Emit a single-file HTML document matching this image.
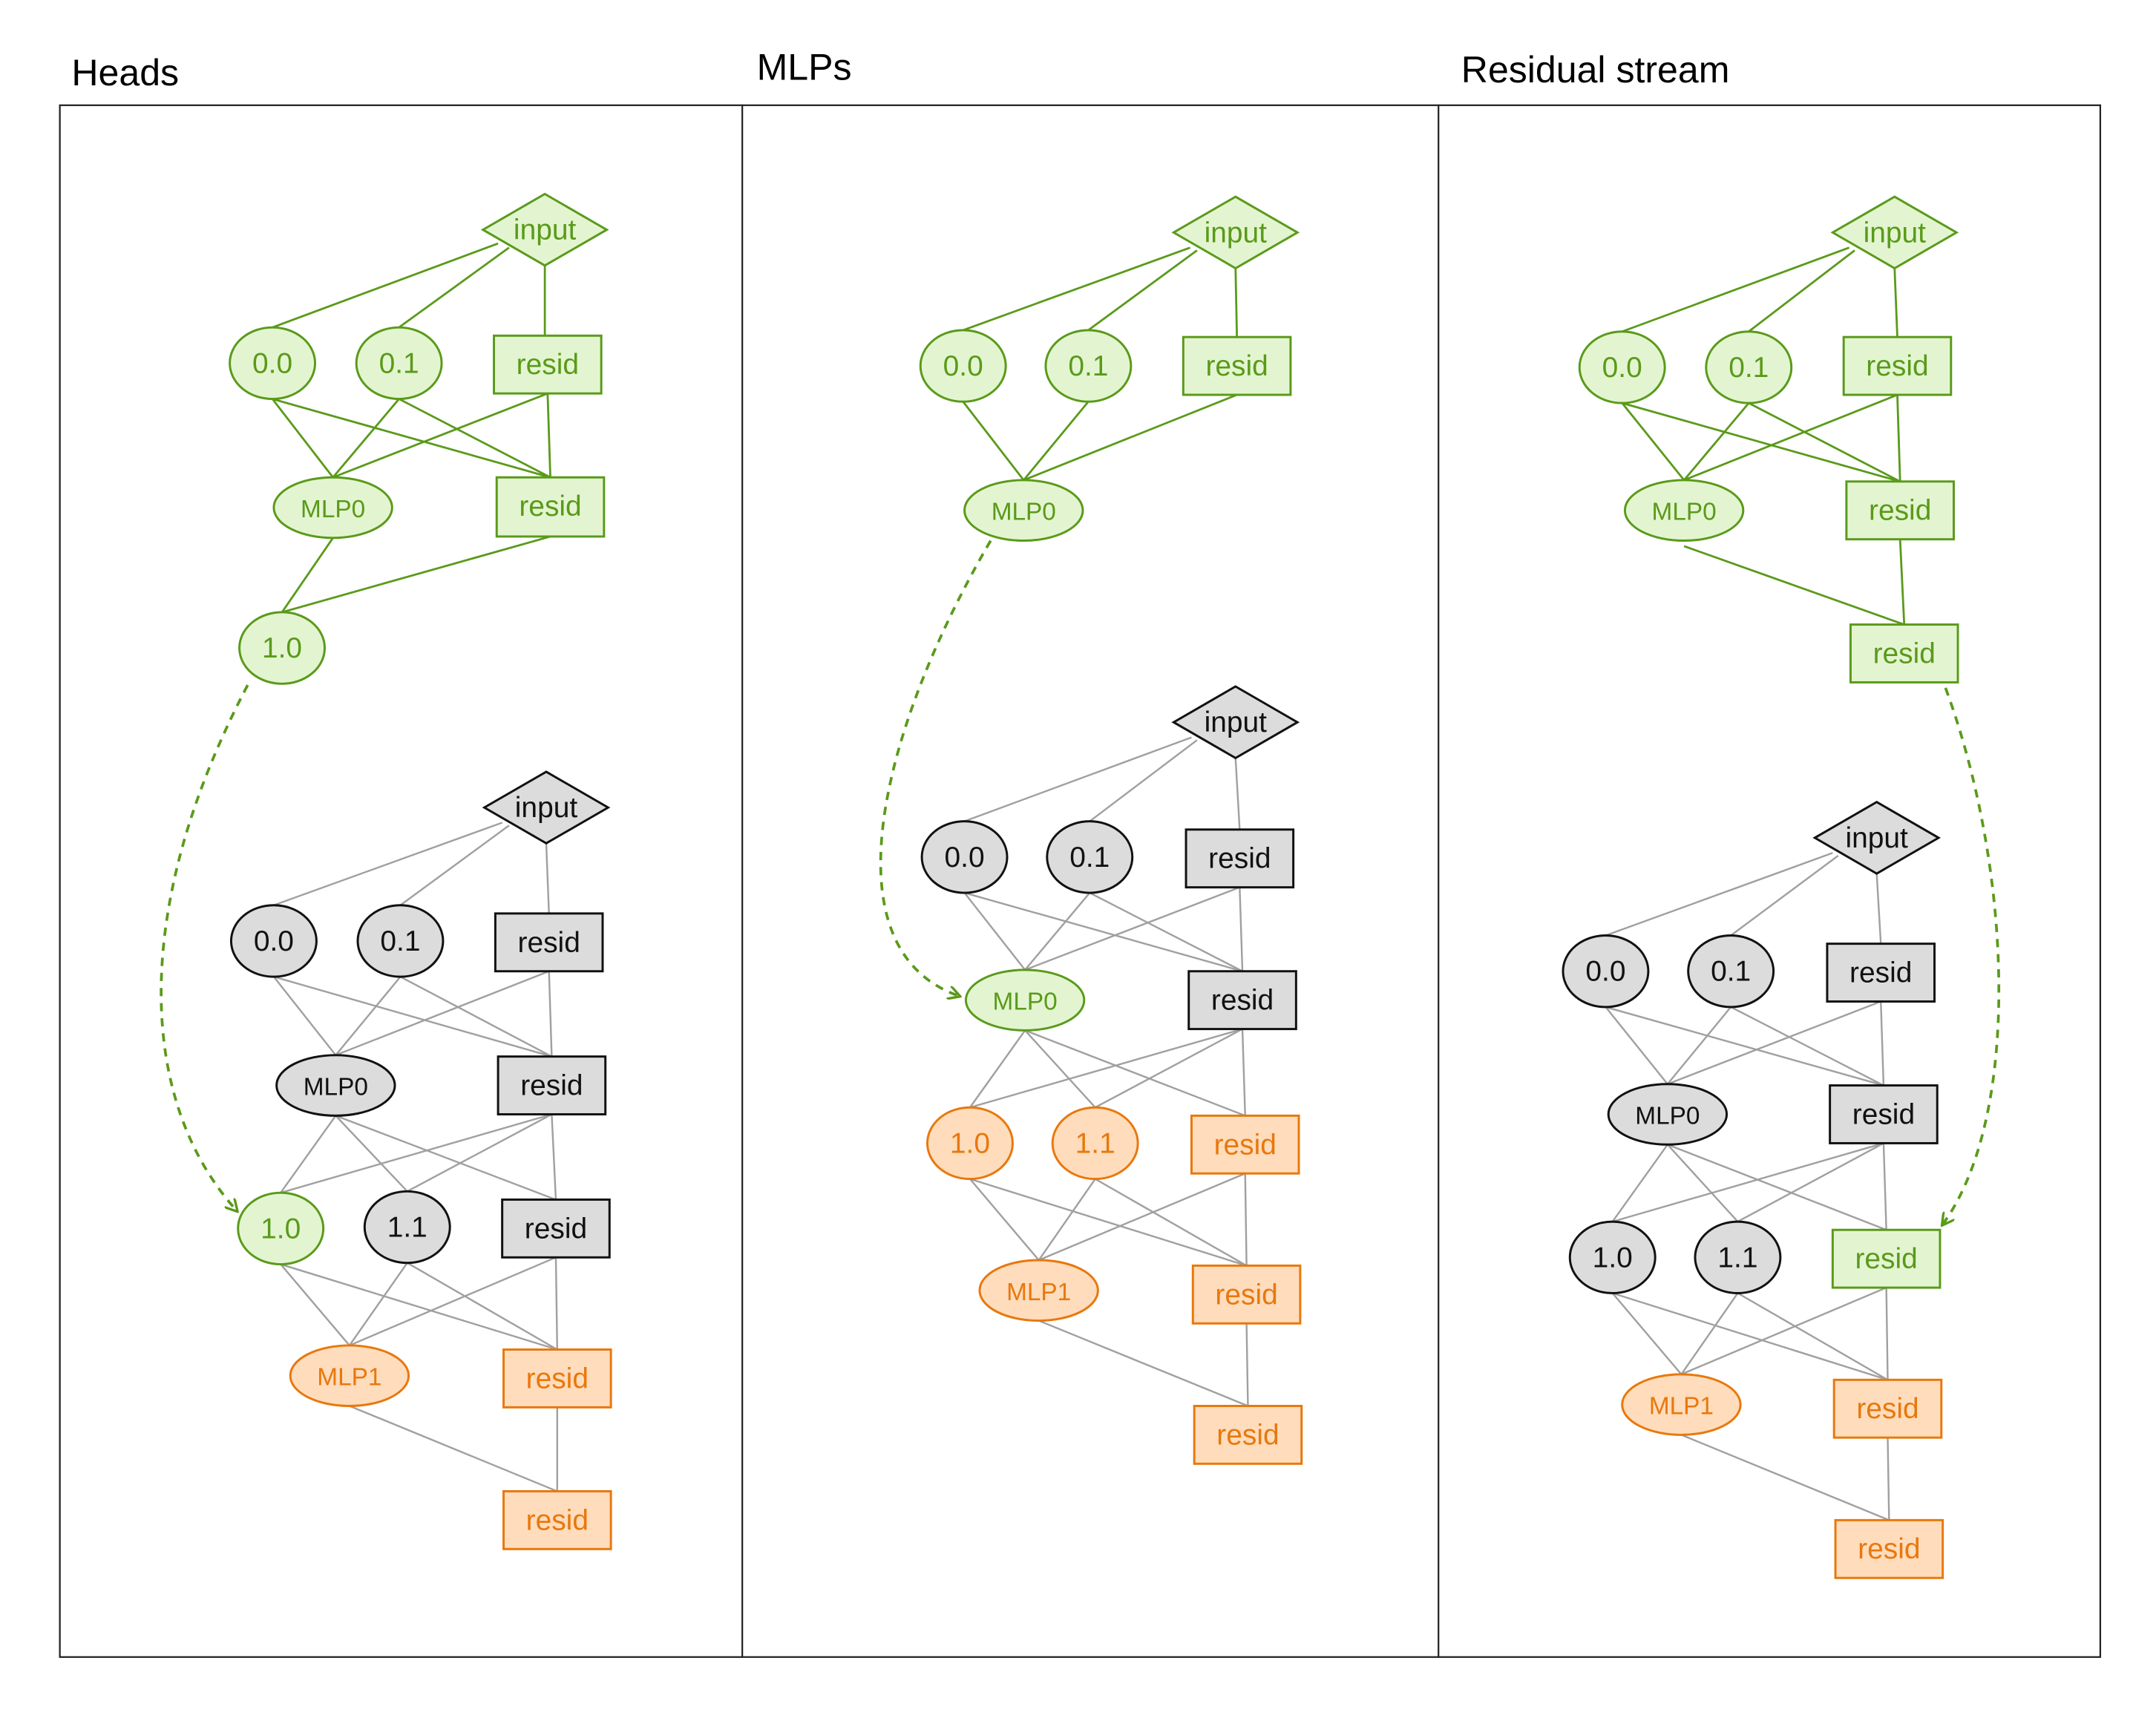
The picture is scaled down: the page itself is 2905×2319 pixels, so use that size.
<!DOCTYPE html>
<html><head><meta charset="utf-8"><style>
html,body{margin:0;padding:0;background:#fff;}
svg{display:block;}
text{font-family:"Liberation Sans",sans-serif;}
</style></head><body>
<svg width="2905" height="2319" viewBox="0 0 1567 1251" preserveAspectRatio="none" xmlns="http://www.w3.org/2000/svg">
<defs>
<marker id="ah" markerWidth="10" markerHeight="10" refX="8" refY="5" orient="auto" markerUnits="userSpaceOnUse"><path d="M0,0 L9,5 L0,10" fill="none" stroke="#5a9a1a" stroke-width="1.8"/></marker>
</defs>
<rect width="1567" height="1251" fill="#fff"/>
<text x="52" y="62" font-size="27">Heads</text>
<text x="550" y="58" font-size="27">MLPs</text>
<text x="1062" y="60" font-size="27">Residual stream</text>
<rect x="43.5" y="76.5" width="1483" height="1128" fill="none" stroke="#222" stroke-width="1.2"/>
<line x1="539.5" y1="76" x2="539.5" y2="1205" stroke="#222" stroke-width="1.2"/>
<line x1="1045.5" y1="76" x2="1045.5" y2="1205" stroke="#222" stroke-width="1.2"/>

<g stroke="#5a9a1a" stroke-width="1.5" fill="none">
<path d="M362,177L198,238M370,180L290,238M396,193L396,244M198,290L242,347M290,290L242,347M398,286L242,347M198,290L400,347M290,290L400,347M398,286L400,347M242,391L205,445M400,390L205,445"/>
<path d="M865,180L700,240M870,182L791,240M898,195L899,245M700,292L744,349M791,292L744,349M899,287L744,349"/>
<path d="M1344,180L1179,241M1348,182L1271,241M1377,195L1379,245M1179,293L1224,349M1271,293L1224,349M1379,287L1224,349M1179,293L1381,350M1271,293L1381,350M1379,287L1381,350M1224,397L1384,454M1381,392L1384,454"/>
</g>
<g stroke="#a0a0a0" stroke-width="1.3" fill="none">
<path d="M365,598L199,658M370,600L291,658M397,613L399,664
M199,710L244,767M291,710L244,767M399,706L244,767M199,710L401,768M291,710L401,768M399,706L401,768
M244,811L204,867M244,811L296,866M244,811L404,872M401,810L204,867M401,810L296,866M401,810L404,872
M204,919L254,978M296,918L254,978M404,914L254,978M204,919L405,981M296,918L405,981M404,914L405,981
M254,1022L405,1084M405,1023L405,1084"/>
<path d="M866,536L701,597M870,538L792,597M898,551L901,603
M701,649L745,705M792,649L745,705M901,645L745,705M701,649L903,706M792,649L903,706M901,645L903,706
M745,749L705,805M745,749L796,805M745,749L905,811M903,748L705,805M903,748L796,805M903,748L905,811
M705,857L755,916M796,857L755,916M905,853L755,916M705,857L906,920M796,857L906,920M905,853L906,920
M755,960L907,1022M906,962L907,1022"/>
<path d="M1332,620L1167,680M1336,622L1258,680M1364,635L1367,686
M1167,732L1212,788M1258,732L1212,788M1367,728L1212,788M1167,732L1369,789M1258,732L1369,789M1367,728L1369,789
M1212,832L1172,888M1212,832L1263,888M1212,832L1371,894M1369,831L1172,888M1369,831L1263,888M1369,831L1371,894
M1172,940L1222,999M1263,940L1222,999M1371,936L1222,999M1172,940L1372,1003M1263,940L1372,1003M1371,936L1372,1003
M1222,1043L1373,1105M1372,1045L1373,1105"/>
</g>
<g stroke="#5a9a1a" stroke-width="2" fill="none" stroke-dasharray="6,5" marker-end="url(#ah)">
<path d="M180,498 C95,660 100,800 172,880"/>
<path d="M720,393 C640,530 600,690 697,724"/>
<path d="M1414,500 C1462,630 1470,810 1412,890"/>
</g>

<g font-size="21" text-anchor="middle" stroke-width="1.6">
<g fill="#e3f5d0" stroke="#5a9a1a">
<polygon points="396,141 441,167 396,193 351,167"/>
<ellipse cx="198" cy="264" rx="31" ry="26"/><ellipse cx="290" cy="264" rx="31" ry="26"/>
<rect x="359" y="244" width="78" height="42"/>
<ellipse cx="242" cy="369" rx="43" ry="22"/><rect x="361" y="347" width="78" height="43"/>
<ellipse cx="205" cy="471" rx="31" ry="26"/>
<ellipse cx="204" cy="893" rx="31" ry="26"/>
</g>
<g fill="#5a9a1a">
<text x="396" y="174">input</text><text x="198" y="271">0.0</text><text x="290" y="271">0.1</text><text x="398" y="272">resid</text>
<text x="242" y="376" font-size="18">MLP0</text><text x="400" y="375">resid</text><text x="205" y="478">1.0</text><text x="204" y="900">1.0</text>
</g>
<g fill="#dcdcdc" stroke="#111">
<polygon points="397,561 442,587 397,613 352,587"/>
<ellipse cx="199" cy="684" rx="31" ry="26"/><ellipse cx="291" cy="684" rx="31" ry="26"/>
<rect x="360" y="664" width="78" height="42"/>
<ellipse cx="244" cy="789" rx="43" ry="22"/><rect x="362" y="768" width="78" height="42"/>
<ellipse cx="296" cy="892" rx="31" ry="26"/><rect x="365" y="872" width="78" height="42"/>
</g>
<g fill="#111">
<text x="397" y="594">input</text><text x="199" y="691">0.0</text><text x="291" y="691">0.1</text><text x="399" y="692">resid</text>
<text x="244" y="796" font-size="18">MLP0</text><text x="401" y="796">resid</text><text x="296" y="899">1.1</text><text x="404" y="900">resid</text>
</g>
<g fill="#ffdcbc" stroke="#e8780c">
<ellipse cx="254" cy="1000" rx="43" ry="22"/><rect x="366" y="981" width="78" height="42"/><rect x="366" y="1084" width="78" height="42"/>
</g>
<g fill="#e8780c">
<text x="254" y="1007" font-size="18">MLP1</text><text x="405" y="1009">resid</text><text x="405" y="1112">resid</text>
</g>

<g fill="#e3f5d0" stroke="#5a9a1a">
<polygon points="898,143 943,169 898,195 853,169"/>
<ellipse cx="700" cy="266" rx="31" ry="26"/><ellipse cx="791" cy="266" rx="31" ry="26"/>
<rect x="860" y="245" width="78" height="42"/>
<ellipse cx="744" cy="371" rx="43" ry="22"/>
<ellipse cx="745" cy="727" rx="43" ry="22"/>
</g>
<g fill="#5a9a1a">
<text x="898" y="176">input</text><text x="700" y="273">0.0</text><text x="791" y="273">0.1</text><text x="899" y="273">resid</text>
<text x="744" y="378" font-size="18">MLP0</text><text x="745" y="734" font-size="18">MLP0</text>
</g>
<g fill="#dcdcdc" stroke="#111">
<polygon points="898,499 943,525 898,551 853,525"/>
<ellipse cx="701" cy="623" rx="31" ry="26"/><ellipse cx="792" cy="623" rx="31" ry="26"/>
<rect x="862" y="603" width="78" height="42"/><rect x="864" y="706" width="78" height="42"/>
</g>
<g fill="#111">
<text x="898" y="532">input</text><text x="701" y="630">0.0</text><text x="792" y="630">0.1</text><text x="901" y="631">resid</text><text x="903" y="734">resid</text>
</g>
<g fill="#ffdcbc" stroke="#e8780c">
<ellipse cx="705" cy="831" rx="31" ry="26"/><ellipse cx="796" cy="831" rx="31" ry="26"/>
<rect x="866" y="811" width="78" height="42"/>
<ellipse cx="755" cy="938" rx="43" ry="22"/><rect x="867" y="920" width="78" height="42"/><rect x="868" y="1022" width="78" height="42"/>
</g>
<g fill="#e8780c">
<text x="705" y="838">1.0</text><text x="796" y="838">1.1</text><text x="905" y="839">resid</text>
<text x="755" y="945" font-size="18">MLP1</text><text x="906" y="948">resid</text><text x="907" y="1050">resid</text>
</g>

<g fill="#e3f5d0" stroke="#5a9a1a">
<polygon points="1377,143 1422,169 1377,195 1332,169"/>
<ellipse cx="1179" cy="267" rx="31" ry="26"/><ellipse cx="1271" cy="267" rx="31" ry="26"/>
<rect x="1340" y="245" width="78" height="42"/>
<ellipse cx="1224" cy="371" rx="43" ry="22"/><rect x="1342" y="350" width="78" height="42"/>
<rect x="1345" y="454" width="78" height="42"/>
<rect x="1332" y="894" width="78" height="42"/>
</g>
<g fill="#5a9a1a">
<text x="1377" y="176">input</text><text x="1179" y="274">0.0</text><text x="1271" y="274">0.1</text><text x="1379" y="273">resid</text>
<text x="1224" y="378" font-size="18">MLP0</text><text x="1381" y="378">resid</text><text x="1384" y="482">resid</text><text x="1371" y="922">resid</text>
</g>
<g fill="#dcdcdc" stroke="#111">
<polygon points="1364,583 1409,609 1364,635 1319,609"/>
<ellipse cx="1167" cy="706" rx="31" ry="26"/><ellipse cx="1258" cy="706" rx="31" ry="26"/>
<rect x="1328" y="686" width="78" height="42"/>
<ellipse cx="1212" cy="810" rx="43" ry="22"/><rect x="1330" y="789" width="78" height="42"/>
<ellipse cx="1172" cy="914" rx="31" ry="26"/><ellipse cx="1263" cy="914" rx="31" ry="26"/>
</g>
<g fill="#111">
<text x="1364" y="616">input</text><text x="1167" y="713">0.0</text><text x="1258" y="713">0.1</text><text x="1367" y="714">resid</text>
<text x="1212" y="817" font-size="18">MLP0</text><text x="1369" y="817">resid</text><text x="1172" y="921">1.0</text><text x="1263" y="921">1.1</text>
</g>
<g fill="#ffdcbc" stroke="#e8780c">
<ellipse cx="1222" cy="1021" rx="43" ry="22"/><rect x="1333" y="1003" width="78" height="42"/><rect x="1334" y="1105" width="78" height="42"/>
</g>
<g fill="#e8780c">
<text x="1222" y="1028" font-size="18">MLP1</text><text x="1372" y="1031">resid</text><text x="1373" y="1133">resid</text>
</g>
</g>
</svg>
</body></html>
